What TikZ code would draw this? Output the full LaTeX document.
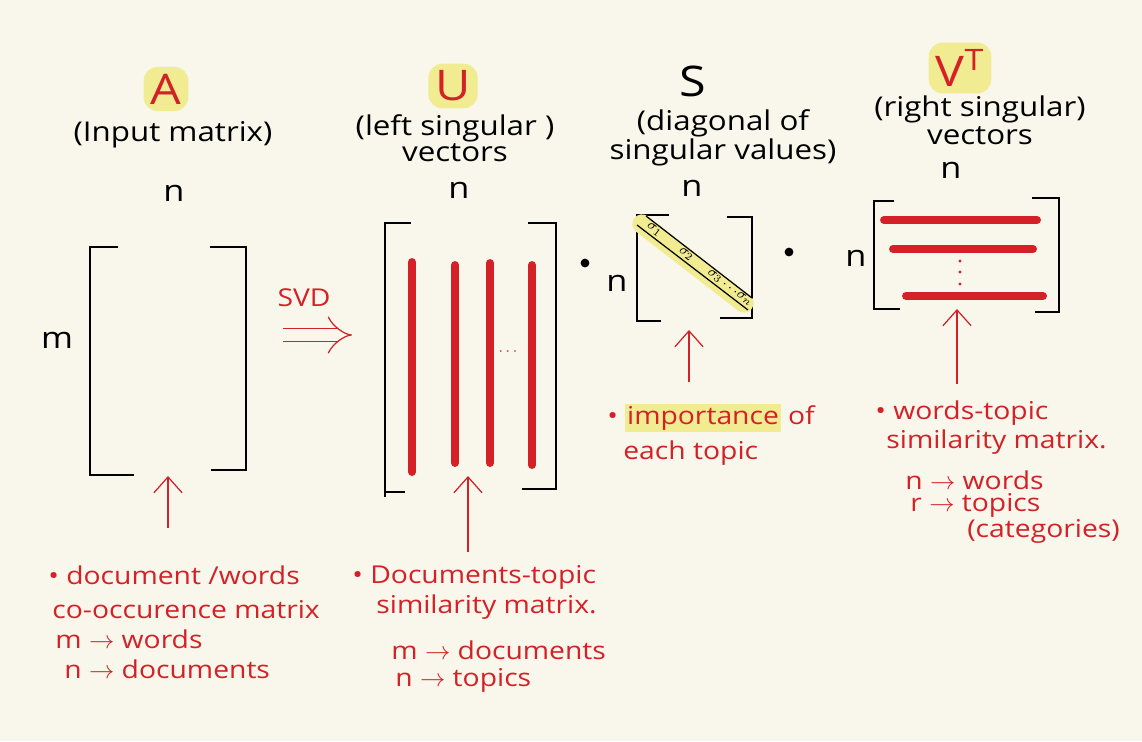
\documentclass[tikz,border=0pt]{standalone}
\usepackage{fontspec}
\setmainfont{Open Sans}[FakeStretch=1.15]
\usetikzlibrary{arrows.meta}
\definecolor{fond}{RGB}{249,247,235}
\definecolor{rouge}{RGB}{212,32,39}
\definecolor{jaune}{RGB}{241,235,145}
\setlength{\fboxsep}{1pt}
\begin{document}
\begin{tikzpicture}[x=0.02cm,y=-0.02cm]
	% Styles (MODIFIABLES)
	\tikzstyle{fleche}=[-{Straight Barb[length=9pt,width=16pt]},rouge,line width=0.7pt]
	\tikzstyle{crochet}=[black,line width=0.9pt]
	\tikzstyle{barre}=[rouge,line width=4.5pt,line cap=round]
	\tikzstyle{titre}=[font=\fontsize{24}{28}\selectfont,text=rouge,fill=jaune,rounded corners=8pt,inner sep=4pt]
	\tikzstyle{legende}=[font=\fontsize{15.5}{16.5}\selectfont,align=center]
	\tikzstyle{dimension}=[font=\fontsize{17}{20}\selectfont]
	\tikzstyle{remarque}=[font=\fontsize{14}{16}\selectfont,text=rouge,anchor=west,inner sep=0pt]
	\tikzstyle{produit}=[circle,fill=black,inner sep=0pt,minimum size=5pt]
	\tikzstyle{sigma}=[font=\footnotesize,rotate=-37.4,inner sep=0pt]
	% Fond
	\fill[fond] (0,0) rectangle (1142,741);
	% Matrice A
	\node[titre] (A) at (166,89) {A};
	\node[legende] (Aleg) at (173,135) {(Input matrix)};
	\node[dimension] (An) at (174,193) {n};
	\node[dimension] (Am) at (57,340) {m};
	\draw[crochet] (118,247) -- (90,247) -- (90,475) -- (134,475);
	\draw[crochet] (210,247) -- (246,247) -- (246,470) -- (211,470);
	\coordinate (Abas) at (168,476);
	\coordinate (Aqueue) at (168,528);
	\node[remarque] (Anote1) at (48,575) {\textbullet\ document /words};
	\node[remarque] (Anote2) at (52,610) {co-occurence matrix};
	\node[remarque] (Anote3) at (55,639) {m $\rightarrow$ words};
	\node[remarque] (Anote4) at (64,669) {n $\rightarrow$ documents};
	% SVD
	\node[remarque,anchor=center] (svd) at (304,298) {SVD};
	\coordinate (svdg) at (283,335);
	\coordinate (svdd) at (352,335);
	% Matrice U
	\node[titre] (U) at (453,86) {U};
	\node[legende,font=\fontsize{15.5}{12.5}\selectfont] (Uleg) at (455,138) {(left singular )\\vectors};
	\node[dimension] (Un) at (459,190) {n};
	\draw[crochet] (411,223) -- (385,223) -- (385,497);
	\draw[crochet] (385,492) -- (405,492);
	\draw[crochet] (528,223) -- (556,223) -- (556,489) -- (522,489);
	\draw[barre] (412,262) -- (412,472);
	\draw[barre] (455,265) -- (455,463);
	\draw[barre] (490,263) -- (490,463);
	\draw[barre] (532,265) -- (532,465);
	\node[text=rouge,font=\small] (Upts) at (508,352) {$\cdots$};
	\coordinate (Ubas) at (468,476);
	\coordinate (Uqueue) at (468,552);
	\node[remarque] (Unote1) at (352,577) {\textbullet\ Documents-topic};
	\node[remarque] (Unote2) at (376,607) {similarity matrix.};
	\node[remarque] (Unote3) at (391,650) {m $\rightarrow$ documents};
	\node[remarque] (Unote4) at (395,680) {n $\rightarrow$ topics};
	% Produits
	\node[produit] (p1) at (585,263) {};
	\node[produit] (p2) at (789,252) {};
	% Matrice S
	\node[titre,fill=none,text=black] (S) at (693,81) {S};
	\node[legende] (Sleg) at (723,138) {(diagonal of\\singular values)};
	\node[dimension] (Sn) at (692,188) {n};
	\node[dimension] (Sm) at (617,283) {n};
	\draw[crochet] (669,215) -- (637,215) -- (637,321) -- (661,321);
	\draw[crochet] (727,217) -- (752,217) -- (752,318) -- (720,318);
	\draw[jaune,line width=11pt,line cap=round] (642,224) -- (744,303);
	\coordinate (Sdeb) at (641,220);
	\coordinate (Sfin) at (751,304);
	\draw[crochet,line width=0.7pt] (646,216) -- (752,298);
	\draw[crochet,line width=0.7pt] (637,225) -- (748,310);
	\path (Sdeb) -- (Sfin)
		node[sigma,pos=.12] (s1) {$\sigma_1$}
		node[sigma,pos=.41] (s2) {$\sigma_2$}
		node[sigma,pos=.67] (s3) {$\sigma_3$}
		node[sigma,pos=.81] (sp) {$\ldots$}
		node[sigma,pos=.94] (sn) {$\sigma_n$};
	\coordinate (Sbas) at (689,330);
	\coordinate (Squeue) at (689,382);
	\node[remarque] (Snote1) at (607,418) {\textbullet\ \colorbox{jaune}{importance} of};
	\node[remarque] (Snote2) at (623,453) {each topic};
	% Matrice V
	\node[titre] (V) at (960,68) {V\textsuperscript{T}};
	\node[legende,font=\fontsize{15.5}{16}\selectfont] (Vleg) at (980,120) {(right singular)\\vectors};
	\node[dimension] (Vn) at (951,170) {n};
	\node[dimension] (Vm) at (856,258) {n};
	\draw[crochet] (894,201) -- (874,201) -- (874,309) -- (900,309);
	\draw[crochet] (1032,198) -- (1059,198) -- (1059,312) -- (1035,312);
	\draw[barre] (884,220) -- (1037,220);
	\draw[barre] (893,249) -- (1033,249);
	\draw[barre] (906,296) -- (1043,296);
	\fill[rouge] (960,261) circle (1.6) (960,272) circle (1.6) (960,284) circle (1.6);
	\coordinate (Vbas) at (957,309);
	\coordinate (Vqueue) at (957,384);
	\node[remarque] (Vnote1) at (875,413) {\textbullet\ words-topic};
	\node[remarque] (Vnote2) at (886,442) {similarity matrix.};
	\node[remarque] (Vnote3) at (905,480) {n $\rightarrow$ words};
	\node[remarque] (Vnote4) at (910,505) {r $\rightarrow$ topics};
	\node[remarque] (Vnote5) at (967,531) {(categories)};
	% Fleches
	\draw[rouge,line width=0.7pt,double=fond,double distance=7pt,-{Implies}] (svdg) -- (svdd);
	\draw[fleche] (Aqueue) -- (Abas);
	\draw[fleche] (Uqueue) -- (Ubas);
	\draw[fleche] (Squeue) -- (Sbas);
	\draw[fleche] (Vqueue) -- (Vbas);
\end{tikzpicture}
\end{document}
